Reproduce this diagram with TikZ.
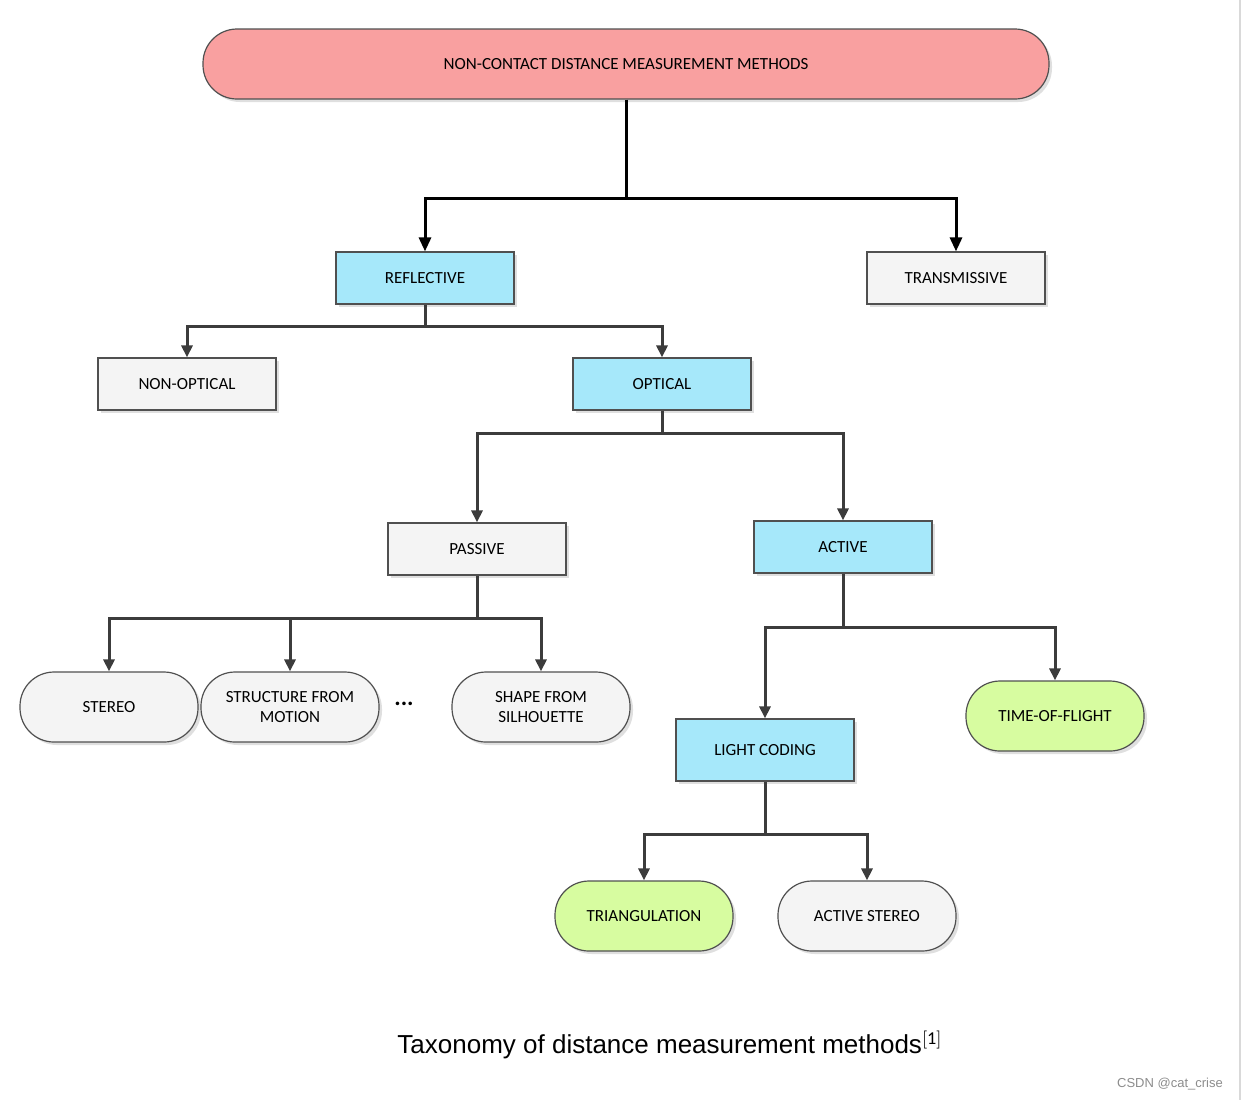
\documentclass[tikz,border=0pt]{standalone}
\usepackage{fontspec}
\setmainfont{Carlito}
\newfontfamily\capfont{Liberation Sans}
\usetikzlibrary{shadows,arrows.meta}
\definecolor{pinkf}{RGB}{249,160,160}
\definecolor{bluef}{RGB}{166,232,250}
\definecolor{greenf}{RGB}{215,252,160}
\definecolor{grayf}{RGB}{244,244,244}
\definecolor{edge}{RGB}{80,80,80}
\definecolor{conn}{RGB}{60,60,60}
\tikzset{
 box/.style={draw=edge,line width=0.6pt,minimum width=89pt,minimum height=26pt,inner sep=1pt,
   align=center,font=\fontsize{8.5}{10}\selectfont,drop shadow={shadow xshift=1.5pt,shadow yshift=-1.5pt,fill=black!25}},
 sq/.style={box},
 rd/.style={box,rounded corners=17pt,minimum height=35pt},
 arr/.style={draw=conn,line width=1.5pt,-{Triangle[length=6pt,width=5.5pt]}},
 ln/.style={draw=conn,line width=1.5pt},
}
\begin{document}
\begin{tikzpicture}[x=0.5pt,y=-0.5pt]
\useasboundingbox (0,0) rectangle (1243,1100);
\draw[black!15,line width=0.8pt] (1240,0) -- (1240,1100);
\node[rd,fill=pinkf,minimum width=423pt,rounded corners=17pt] (top) at (626,64) {NON-CONTACT DISTANCE MEASUREMENT METHODS};
\node[sq,fill=bluef] (refl) at (425,278) {REFLECTIVE};
\node[sq,fill=grayf] (trans) at (956,278) {TRANSMISSIVE};
\node[sq,fill=grayf] (nonopt) at (187,384) {NON-OPTICAL};
\node[sq,fill=bluef] (opt) at (662,384) {OPTICAL};
\node[sq,fill=grayf] (pass) at (477,549) {PASSIVE};
\node[sq,fill=bluef] (act) at (843,547) {ACTIVE};
\node[rd,fill=grayf] (stereo) at (109,707) {STEREO};
\node[rd,fill=grayf] (sfm) at (290,707) {STRUCTURE FROM\\MOTION};
\node[font=\bfseries\fontsize{12}{12}\selectfont] (dots) at (404,704) {...};
\node[rd,fill=grayf] (ssil) at (541,707) {SHAPE FROM\\SILHOUETTE};
\node[sq,fill=bluef,minimum height=31pt] (lc) at (765,750) {LIGHT CODING};
\node[rd,fill=greenf] (tof) at (1055,716) {TIME-OF-FLIGHT};
\node[rd,fill=greenf] (tri) at (644,916) {TRIANGULATION};
\node[rd,fill=grayf] (ast) at (867,916) {ACTIVE STEREO};
\node[font=\capfont\fontsize{13}{14}\selectfont] (cap) at (670,1045) {Taxonomy of distance measurement methods$^{\mathrm{[1]}}$};
\node[font=\capfont\fontsize{6.5}{7}\selectfont,text=black!45] (csdn) at (1170,1084) {CSDN @cat\_crise};
% connectors
\coordinate (j1) at (626,198);
\draw[ln,draw=black] (top.south) -- (j1);
\draw[arr,draw=black,-{Triangle[length=7pt,width=6pt]}] (j1) -| (refl.north);
\draw[arr,draw=black,-{Triangle[length=7pt,width=6pt]}] (j1) -| (trans.north);
\coordinate (j2) at (425,326);
\draw[ln] (refl.south) -- (j2);
\draw[arr] (j2) -| (nonopt.north);
\draw[arr] (j2) -| (opt.north);
\coordinate (j3) at (662,433);
\draw[ln] (opt.south) -- (j3);
\draw[arr] (j3) -| (pass.north);
\draw[arr] (j3) -| (act.north);
\coordinate (j4) at (477,618);
\draw[ln] (pass.south) -- (j4);
\draw[arr] (j4) -| (stereo.north);
\draw[arr] (j4) -| (sfm.north);
\draw[arr] (j4) -| (ssil.north);
\coordinate (j5) at (843,627);
\draw[ln] (act.south) -- (j5);
\draw[arr] (j5) -| (lc.north);
\draw[arr] (j5) -| (tof.north);
\coordinate (j6) at (765,834);
\draw[ln] (lc.south) -- (j6);
\draw[arr] (j6) -| (tri.north);
\draw[arr] (j6) -| (ast.north);
\end{tikzpicture}
\end{document}
